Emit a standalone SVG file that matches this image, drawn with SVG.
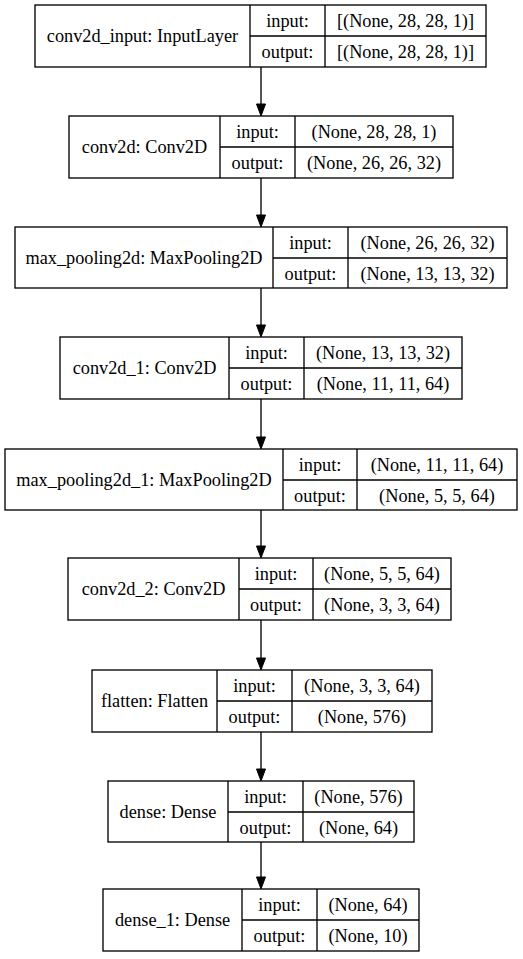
<svg xmlns="http://www.w3.org/2000/svg" width="523" height="959" viewBox="0 0 523 959" font-family="'Liberation Serif', 'Times New Roman', Times, serif">
<style>
.box{fill:#fff;stroke:#000;stroke-width:1.33}
.ln{stroke:#000;stroke-width:1.33;fill:none}
text{font-family:'Liberation Serif','Times New Roman',Times,serif;font-size:18.3px;fill:#000;text-anchor:middle}
.edge{stroke:#000;stroke-width:1.33;fill:none}
.head{fill:#000;stroke:#000;stroke-width:1}
</style>
<rect width="523" height="959" fill="#fff"/>
<g id="edges">
<line class="edge" x1="261" y1="67" x2="261" y2="104"/><polygon class="head" points="256.5,104 265.5,104 261,116"/>
<line class="edge" x1="261" y1="178" x2="261" y2="215"/><polygon class="head" points="256.5,215 265.5,215 261,227"/>
<line class="edge" x1="261" y1="288" x2="261" y2="325"/><polygon class="head" points="256.5,325 265.5,325 261,337"/>
<line class="edge" x1="261" y1="399" x2="261" y2="437"/><polygon class="head" points="256.5,437 265.5,437 261,449"/>
<line class="edge" x1="261" y1="510" x2="261" y2="546"/><polygon class="head" points="256.5,546 265.5,546 261,558"/>
<line class="edge" x1="261" y1="620" x2="261" y2="658"/><polygon class="head" points="256.5,658 265.5,658 261,670"/>
<line class="edge" x1="261" y1="732" x2="261" y2="769"/><polygon class="head" points="256.5,769 265.5,769 261,781"/>
<line class="edge" x1="261" y1="842" x2="261" y2="877"/><polygon class="head" points="256.5,877 265.5,877 261,889"/>
</g>
<g id="conv2d_input">
<rect class="box" x="35" y="5" width="451" height="62"/>
<path class="ln" d="M250,5V67M325,5V67M250,36H486"/>
<text x="142.5" y="42">conv2d_input: InputLayer</text>
<text x="287.5" y="27">input:</text><text x="287.5" y="58">output:</text>
<text x="405.5" y="27">[(None, 28, 28, 1)]</text><text x="405.5" y="58">[(None, 28, 28, 1)]</text>
</g>
<g id="conv2d">
<rect class="box" x="69" y="116" width="384" height="62"/>
<path class="ln" d="M220,116V178M295,116V178M220,147H453"/>
<text x="144.5" y="153">conv2d: Conv2D</text>
<text x="257.5" y="138">input:</text><text x="257.5" y="169">output:</text>
<text x="374" y="138">(None, 28, 28, 1)</text><text x="374" y="169">(None, 26, 26, 32)</text>
</g>
<g id="max_pooling2d">
<rect class="box" x="15" y="227" width="492" height="61"/>
<path class="ln" d="M273,227V288M348,227V288M273,258H507"/>
<text x="144" y="264">max_pooling2d: MaxPooling2D</text>
<text x="310.5" y="249">input:</text><text x="310.5" y="280">output:</text>
<text x="427.5" y="249">(None, 26, 26, 32)</text><text x="427.5" y="280">(None, 13, 13, 32)</text>
</g>
<g id="conv2d_1">
<rect class="box" x="60" y="337" width="402" height="62"/>
<path class="ln" d="M229,337V399M304,337V399M229,368H462"/>
<text x="144.5" y="374">conv2d_1: Conv2D</text>
<text x="266.5" y="359">input:</text><text x="266.5" y="390">output:</text>
<text x="383" y="359">(None, 13, 13, 32)</text><text x="383" y="390">(None, 11, 11, 64)</text>
</g>
<g id="max_pooling2d_1">
<rect class="box" x="5" y="449" width="512" height="61"/>
<path class="ln" d="M283,449V510M357,449V510M283,480H517"/>
<text x="144" y="486">max_pooling2d_1: MaxPooling2D</text>
<text x="320" y="471">input:</text><text x="320" y="502">output:</text>
<text x="437" y="471">(None, 11, 11, 64)</text><text x="437" y="502">(None, 5, 5, 64)</text>
</g>
<g id="conv2d_2">
<rect class="box" x="68" y="558" width="383" height="62"/>
<path class="ln" d="M239,558V620M313,558V620M239,589H451"/>
<text x="153.5" y="595">conv2d_2: Conv2D</text>
<text x="276" y="580">input:</text><text x="276" y="611">output:</text>
<text x="382" y="580">(None, 5, 5, 64)</text><text x="382" y="611">(None, 3, 3, 64)</text>
</g>
<g id="flatten">
<rect class="box" x="92" y="670" width="340" height="62"/>
<path class="ln" d="M217,670V732M292,670V732M217,701H432"/>
<text x="154.5" y="707">flatten: Flatten</text>
<text x="254.5" y="692">input:</text><text x="254.5" y="723">output:</text>
<text x="362" y="692">(None, 3, 3, 64)</text><text x="362" y="723">(None, 576)</text>
</g>
<g id="dense">
<rect class="box" x="108" y="781" width="306" height="61"/>
<path class="ln" d="M228,781V842M303,781V842M228,812H414"/>
<text x="168" y="818">dense: Dense</text>
<text x="265.5" y="803">input:</text><text x="265.5" y="834">output:</text>
<text x="358.5" y="803">(None, 576)</text><text x="358.5" y="834">(None, 64)</text>
</g>
<g id="dense_1">
<rect class="box" x="103" y="889" width="316" height="62"/>
<path class="ln" d="M242,889V951M317,889V951M242,920H419"/>
<text x="172.5" y="926">dense_1: Dense</text>
<text x="279.5" y="911">input:</text><text x="279.5" y="942">output:</text>
<text x="368" y="911">(None, 64)</text><text x="368" y="942">(None, 10)</text>
</g>
</svg>
